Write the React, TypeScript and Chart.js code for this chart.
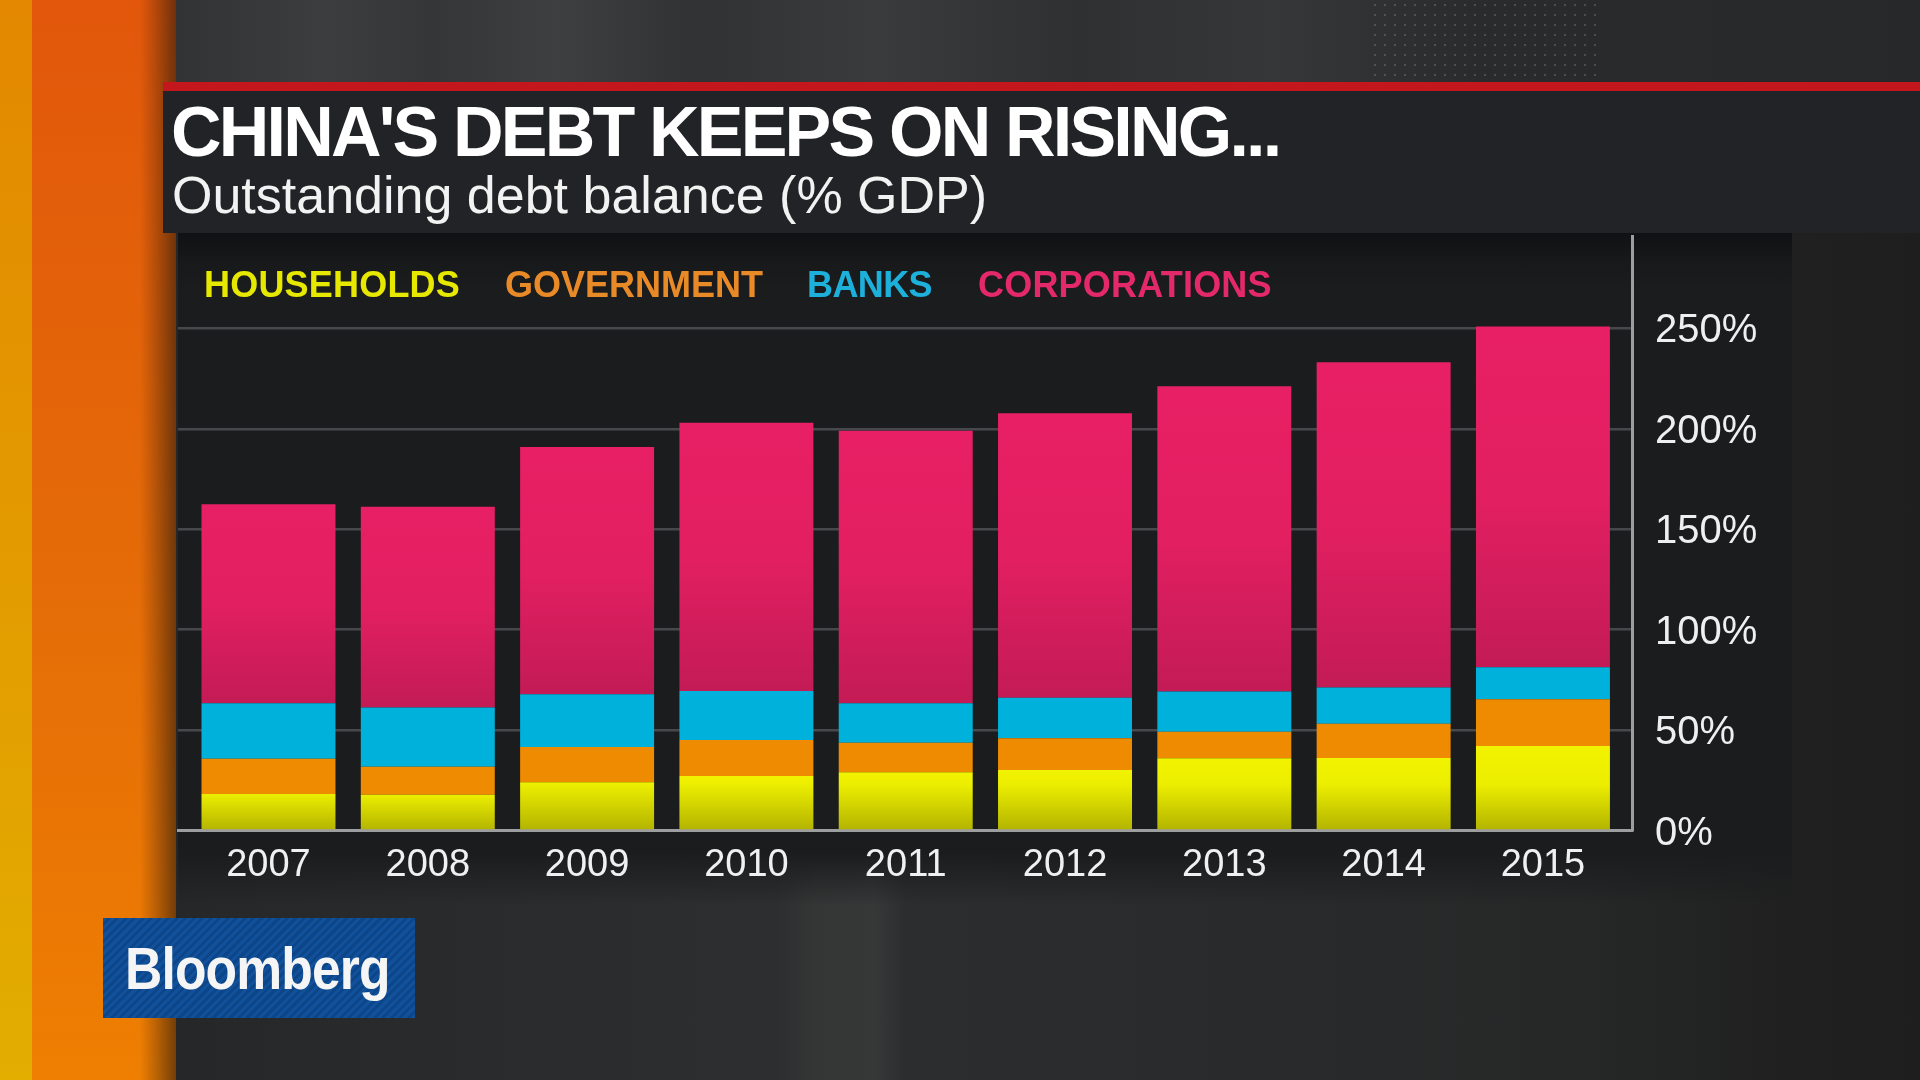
import React, { useEffect, useRef } from "react";
import { Chart, registerables } from "chart.js";

Chart.register(...registerables);

// ---------- data ----------
const years = ["2007", "2008", "2009", "2010", "2011", "2012", "2013", "2014", "2015"];
const households = [18.2, 17.8, 24.0, 27.1, 29.0, 30.1, 36.0, 36.1, 42.1];
const government = [17.5, 14.0, 17.6, 17.9, 14.7, 15.8, 13.2, 17.1, 23.2];
const banks = [27.6, 29.5, 26.3, 24.4, 19.6, 20.2, 20.0, 18.0, 16.0];
const corporations = [99.2, 99.9, 123.1, 133.6, 135.7, 141.6, 152.0, 161.9, 169.6];
const seriesNames = ["HOUSEHOLDS", "GOVERNMENT", "BANKS", "CORPORATIONS"];
const yTickValues = [0, 50, 100, 150, 200, 250];

const SERIES = [households, government, banks, corporations];
const SOLID = ["#eef000", "#ee8b00", "#00b1dc", "#e61f62"];
const LEGEND_COLORS = ["#e6e800", "#e98a28", "#1cb0da", "#e4296b"];
const LEGEND_LEFT = [204, 505, 807, 978];
const LEGEND_SPACING = ["0.2px", "0px", "-0.6px", "0.2px"];
const FONT = '"Liberation Sans", Arial, Helvetica, sans-serif';

function barFill(seriesIndex: number) {
  return (c: any) => {
    const solid = SOLID[seriesIndex];
    const chart = c.chart;
    const y = chart && chart.scales ? chart.scales.y : null;
    const i = c.dataIndex;
    if (!y || i == null || c.type !== "data") return solid;
    if (seriesIndex === 1 || seriesIndex === 2) return solid;
    let base = 0;
    for (let s = 0; s < seriesIndex; s++) base += SERIES[s][i];
    const top = base + SERIES[seriesIndex][i];
    const yTop = y.getPixelForValue(top);
    const yBase = y.getPixelForValue(base);
    if (!isFinite(yTop) || !isFinite(yBase) || yBase - yTop < 2) return solid;
    const h = yBase - yTop;
    const g = chart.ctx.createLinearGradient(0, yTop, 0, yBase);
    if (seriesIndex === 0) {
      const s1 = Math.max(0, 1 - 46 / h);
      g.addColorStop(0, "#f1f300");
      g.addColorStop(s1, "#ecee00");
      g.addColorStop(1, "#b3b300");
    } else {
      g.addColorStop(0, "#e81f64");
      g.addColorStop(0.5, "#e21f61");
      g.addColorStop(0.85, "#cc1c59");
      g.addColorStop(1, "#c31b55");
    }
    return g;
  };
}

function DebtChart() {
  const ref = useRef<HTMLCanvasElement | null>(null);
  useEffect(() => {
    if (!ref.current) return;
    const chart = new Chart(ref.current, {
      type: "bar",
      data: {
        datasets: SERIES.map((vals, s) => ({
          label: seriesNames[s],
          data: vals.map((v, i) => ({ x: i, y: v })),
          backgroundColor: barFill(s) as any,
          borderWidth: 0,
          categoryPercentage: 0.841,
          barPercentage: 1,
          stack: "debt",
        })),
      },
      options: {
        responsive: false,
        animation: false,
        devicePixelRatio: 1,
        events: [],
        layout: { padding: { left: 178, top: 236, right: 0, bottom: 189.5 } },
        plugins: {
          legend: { display: false },
          tooltip: { enabled: false },
          title: { display: false },
        },
        scales: {
          x: {
            type: "linear",
            stacked: true,
            min: -0.568,
            max: 8.559,
            offset: false,
            grid: { display: false, drawTicks: false },
            border: { display: true, color: "#9d9ea0", width: 3 },
            ticks: {
              stepSize: 1,
              includeBounds: false,
              autoSkip: false,
              maxRotation: 0,
              minRotation: 0,
              padding: 12,
              color: "#f0f0f0",
              font: { family: FONT, size: 38 },
              callback: (v: any) => (years[v as number] !== undefined ? years[v as number] : ""),
            },
            afterBuildTicks: (scale: any) => {
              scale.ticks = years.map((_, i) => ({ value: i }));
            },
            afterFit: (scale: any) => {
              scale.height = 60;
            },
          },
          y: {
            type: "linear",
            position: "right",
            stacked: true,
            min: 0,
            max: 296,
            grid: { color: "#47484b", lineWidth: 2.5, drawTicks: false },
            border: { display: true, color: "#9d9ea0", width: 3 },
            ticks: {
              stepSize: 50,
              includeBounds: false,
              padding: 23,
              labelOffset: 3,
              color: "#efefef",
              font: { family: FONT, size: 40 },
              callback: (v: any) => v + "%",
            },
            afterBuildTicks: (scale: any) => {
              scale.ticks = yTickValues.map((v) => ({ value: v }));
            },
            afterFit: (scale: any) => {
              scale.width = 288;
            },
          },
        },
      } as any,
    });
    return () => chart.destroy();
  }, []);
  return (
    <canvas
      ref={ref}
      width={1920}
      height={1080}
      style={{ position: "absolute", left: 0, top: 0, width: 1920, height: 1080, zIndex: 2 }}
    />
  );
}

const abs = (l: number, t: number, w: number, h: number, extra: React.CSSProperties = {}): React.CSSProperties => ({
  position: "absolute",
  left: l,
  top: t,
  width: w,
  height: h,
  ...extra,
});

export default function App() {
  return (
    <div
      style={{
        position: "fixed",
        left: 0,
        top: 0,
        width: 1920,
        height: 1080,
        overflow: "hidden",
        background: "#27282a",
        fontFamily: FONT,
      }}
    >
      {/* lower background with vertical bands */}
      <div
        style={abs(176, 0, 1744, 1080, {
          background:
            "linear-gradient(to right, #262728 0px, #2a2b2c 300px, #2d2e2f 600px, #343535 640px, #363737 700px, #2c2d2e 730px, #2a2b2c 1000px, #262727 1400px, #1f201f 1620px, #1d1e1d 1744px)",
        })}
      />
      {/* top band */}
      <div
        style={abs(176, 0, 1744, 84, {
          background:
            "linear-gradient(to right, #323335 0px, #3c3d3f 150px, #353638 260px, #3e3f41 380px, #313234 520px, #3a3b3d 700px, #2f3032 900px, #363739 1100px, #2a2b2d 1300px, #272829 1744px)",
        })}
      />
      <div
        style={abs(1370, 0, 230, 80, {
          backgroundImage: "radial-gradient(circle, rgba(255,255,255,0.16) 1px, transparent 1.6px)",
          backgroundSize: "10px 10px",
        })}
      />
      {/* left orange strip */}
      <div style={abs(0, 0, 34, 1080, { background: "linear-gradient(to bottom, #e38800, #e39a00 50%, #e2ae00)" })} />
      <div style={abs(32, 0, 144, 1080, { background: "linear-gradient(to bottom, #e2570b, #e46a08 50%, #ee7f02)" })} />
      <div
        style={abs(140, 0, 36, 1080, {
          background: "linear-gradient(to right, rgba(60,30,10,0) 0%, rgba(60,30,10,0.25) 40%, rgba(50,28,10,0.65) 100%)",
        })}
      />
      {/* red line + title panel */}
      <div style={abs(163, 82, 1757, 9, { background: "#c3161d" })} />
      <div style={abs(163, 91, 1757, 142, { background: "#222327" })} />
      {/* chart panel */}
      <div
        style={abs(178, 233, 1614, 672, {
          background:
            "linear-gradient(to bottom, #101113 0px, #18191b 30px, #1b1c1e 60px, #1b1c1e 620px, rgba(27,28,30,0) 672px)",
        })}
      />
      {/* title texts */}
      <div
        style={abs(171, 97, 1400, 70, {
          color: "#ffffff",
          fontWeight: 700,
          fontSize: 70,
          lineHeight: "70px",
          letterSpacing: "-2.8px",
          whiteSpace: "nowrap",
          zIndex: 3,
        })}
      >
        CHINA'S DEBT KEEPS ON RISING...
      </div>
      <div
        style={abs(172, 169, 1200, 52, {
          color: "#f2f2f2",
          fontWeight: 400,
          fontSize: 52,
          lineHeight: "52px",
          whiteSpace: "nowrap",
          zIndex: 3,
        })}
      >
        Outstanding debt balance (% GDP)
      </div>
      {/* legend */}
      {seriesNames.map((n, i) => (
        <div
          key={n}
          style={abs(LEGEND_LEFT[i], 267, 320, 40, {
            color: LEGEND_COLORS[i],
            fontWeight: 700,
            fontSize: 36,
            lineHeight: "36px",
            letterSpacing: LEGEND_SPACING[i],
            whiteSpace: "nowrap",
            zIndex: 3,
          })}
        >
          {n}
        </div>
      ))}
      <DebtChart />
      {/* Bloomberg logo */}
      <div
        style={abs(103, 918, 312, 100, {
          background: "repeating-linear-gradient(135deg, #11509a 0px, #11509a 3px, #0c4688 3px, #0c4688 6px)",
          zIndex: 3,
        })}
      >
        <div
          style={{
            position: "absolute",
            left: 22,
            top: 21,
            color: "#f5f5f5",
            fontWeight: 700,
            fontSize: 60,
            lineHeight: "60px",
            letterSpacing: "-1px",
            transform: "scaleX(0.86)",
            transformOrigin: "left top",
            whiteSpace: "nowrap",
          }}
        >
          Bloomberg
        </div>
      </div>
    </div>
  );
}
